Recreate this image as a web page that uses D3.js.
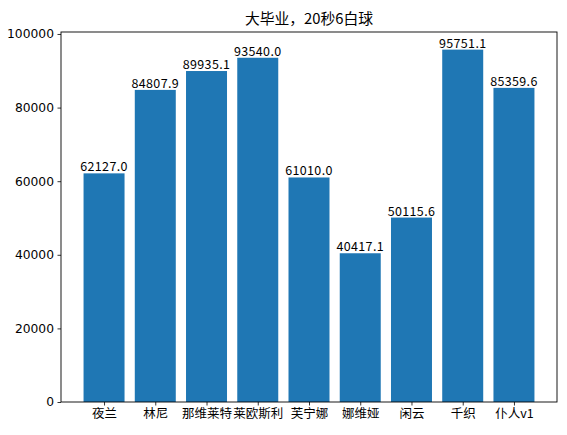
<!DOCTYPE html>
<html>
<head>
<meta charset="utf-8">
<script src="https://cdn.jsdelivr.net/npm/d3@7"></script>
<style>
  body { margin: 0; background: #fff; }
  text { fill: #000; }
</style>
</head>
<body>
<svg id="chart"></svg>
<script>
// data
var names = ["夜兰", "林尼", "那维莱特", "莱欧斯利", "芙宁娜", "娜维娅", "闲云", "千织", "仆人v1"];
var damage = [62127.0, 84807.9, 89935.1, 93540.0, 61010.0, 40417.1, 50115.6, 95751.1, 85359.6];
var yTicks = [0, 20000, 40000, 60000, 80000, 100000];
var title = "大毕业，20秒6白球";

var W = 567, H = 435;
var margin = {top: 32, right: 10, bottom: 33, left: 61},
    width = W - margin.left - margin.right,
    height = H - margin.top - margin.bottom;

var font = "'DejaVu Sans', 'Noto Sans CJK SC', sans-serif";
var cjk = "'Noto Sans CJK SC', sans-serif";

var svg = d3.select("#chart")
    .attr("width", W)
    .attr("height", H)
  .append("g")
    .attr("transform", "translate(" + margin.left + "," + margin.top + ")");

// matplotlib-like limits: bars of width 0.8 plus 5% margins
var x = d3.scaleLinear().domain([-0.84, names.length - 1 + 0.84]).range([0, width]);
var y = d3.scaleLinear().domain([0, d3.max(damage) * 1.05]).range([height, 0]);
var bw = 0.8;

svg.selectAll("rect.bar")
    .data(damage)
  .enter().append("rect")
    .attr("class", "bar")
    .attr("x", function(d, i) { return x(i - bw / 2); })
    .attr("width", x(bw) - x(0))
    .attr("y", function(d) { return y(d); })
    .attr("height", function(d) { return y(0) - y(d); })
    .attr("fill", "#1f77b4");

// value labels
svg.selectAll("text.val")
    .data(damage)
  .enter().append("text")
    .attr("class", "val")
    .attr("x", function(d, i) { return x(i); })
    .attr("y", function(d) { return y(d) - 2; })
    .attr("text-anchor", "middle")
    .style("font-family", cjk)
    .style("font-size", "12.5px")
    .style("letter-spacing", "0.35px")
    .text(function(d) { return d.toFixed(1); });

// axes
var xAxis = svg.append("g")
    .attr("transform", "translate(0," + height + ")")
    .call(d3.axisBottom(x)
      .tickValues(d3.range(names.length))
      .tickFormat(function(i) { return names[i]; })
      .tickSize(3.5).tickPadding(3.5).tickSizeOuter(0));
xAxis.selectAll("text").style("font-family", cjk).style("font-size", "12.5px");

var yAxis = svg.append("g")
    .call(d3.axisLeft(y).tickValues(yTicks).tickFormat(d3.format("d"))
      .tickSize(3.5).tickPadding(3.5).tickSizeOuter(0));
yAxis.selectAll("text").style("font-family", font).style("font-size", "12.3px");

svg.selectAll(".domain").remove();
svg.selectAll(".tick line").attr("stroke", "#000").attr("stroke-width", 0.8);

// frame
svg.append("rect")
    .attr("width", width)
    .attr("height", height)
    .attr("fill", "none")
    .attr("stroke", "#000")
    .attr("stroke-width", 0.9);

svg.append("text")
    .attr("x", width / 2)
    .attr("y", -8)
    .attr("text-anchor", "middle")
    .style("font-family", cjk)
    .style("font-size", "14.8px")
    .text(title);
</script>
</body>
</html>
